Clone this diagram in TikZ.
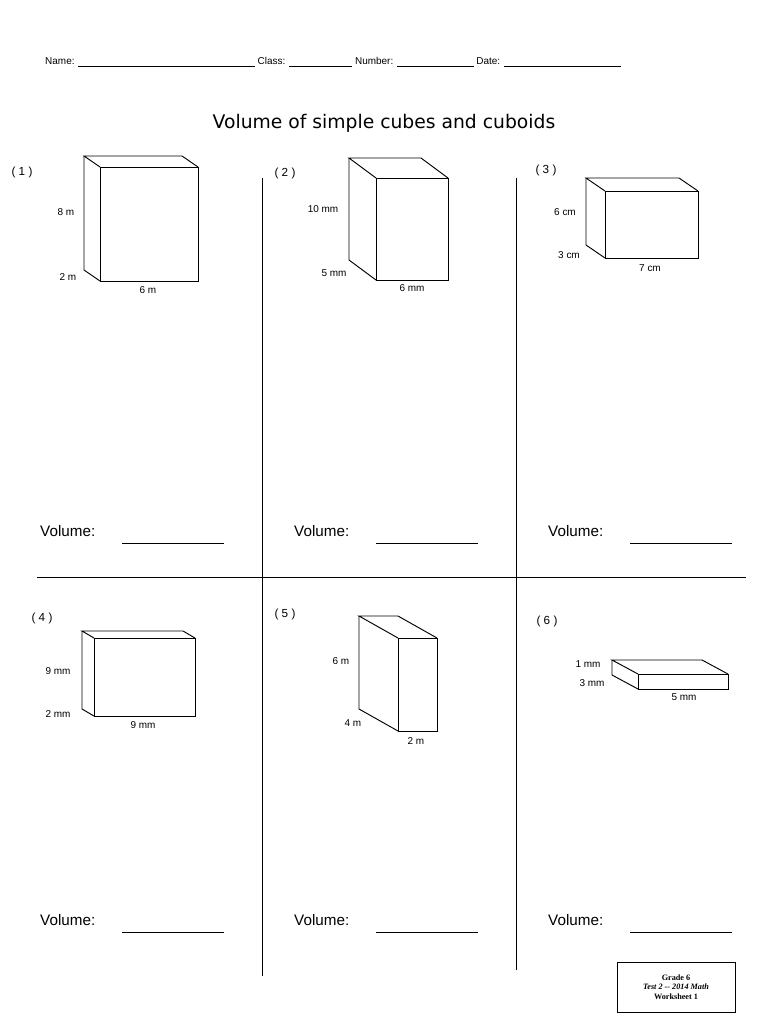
\documentclass[tikz,border=0pt]{standalone}
\usepackage{fontspec}
\setmainfont{Liberation Sans}
\newfontfamily\titlefont{DejaVu Sans}
\newfontfamily\seriffont{Liberation Serif}
\usetikzlibrary{positioning}
% front face at (#1,#2), size #3 x #4, depth offset (#5,#6)
\newcommand\cuboid[6]{%
  \draw[boxline] (#1,#2) rectangle ++(#3,#4);
  \draw[boxline] (#1,#2) -- ++(#5,#6) -- ++(#3,0) -- (#1+#3,#2);
  \draw[boxline] (#1+#5,#2+#6) -- ++(0,#4) -- (#1,#2+#4);
}
\begin{document}
\begin{tikzpicture}[x=0.03cm,y=-0.03cm,
    boxline/.style={thick, line join=miter},
    dimlabel/.style={font=\fontsize{8.5}{10}\selectfont, inner sep=0pt},
    numlabel/.style={font=\fontsize{10}{12}\selectfont, inner sep=0pt},
    vollabel/.style={font=\fontsize{13}{15}\selectfont, inner sep=0pt, anchor=west},
    sepline/.style={thin}
]
\useasboundingbox (0,0) rectangle (768,1024);
\node[font=\fontsize{8.5}{10}\selectfont, anchor=west, inner sep=0pt] (header) at (45,62)
  {Name: \underline{\hspace{5.3cm}} Class: \underline{\hspace{1.9cm}} Number: \underline{\hspace{2.3cm}} Date: \underline{\hspace{3.5cm}}};
\node[font=\titlefont\fontsize{16}{18}\selectfont] (title) at (384,123) {Volume of simple cubes and cuboids};
% separators
\draw[sepline] (262,178) -- (262,976);
\draw[sepline] (516,178) -- (516,970);
\draw[sepline] (37,577) -- (746,577);
% numbers
\node[numlabel] (n1) at (22,172) {( 1 )};
\node[numlabel] (n2) at (285,173) {( 2 )};
\node[numlabel] (n3) at (546,170) {( 3 )};
\node[numlabel] (n4) at (42,618) {( 4 )};
\node[numlabel] (n5) at (285,614) {( 5 )};
\node[numlabel] (n6) at (547,621) {( 6 )};
% cuboids
\cuboid{100}{167}{98}{114}{-16}{-11}
\cuboid{376}{178}{72}{102}{-27}{-20}
\cuboid{605}{191}{93}{67}{-19}{-13}
\cuboid{94}{638}{101}{78}{-12}{-7}
\cuboid{398}{638}{39}{93}{-39}{-22}
\cuboid{638}{674}{90}{15}{-26}{-14}
% dimensions
\node[dimlabel] (d1a) at (66,212) {8 m};
\node[dimlabel] (d1b) at (68,277) {2 m};
\node[dimlabel] (d1c) at (148,290) {6 m};
\node[dimlabel] (d2a) at (323,209) {10 mm};
\node[dimlabel] (d2b) at (334,273) {5 mm};
\node[dimlabel] (d2c) at (412,288) {6 mm};
\node[dimlabel] (d3a) at (565,212) {6 cm};
\node[dimlabel] (d3b) at (569,255) {3 cm};
\node[dimlabel] (d3c) at (650,268) {7 cm};
\node[dimlabel] (d4a) at (58,671) {9 mm};
\node[dimlabel] (d4b) at (58,714) {2 mm};
\node[dimlabel] (d4c) at (143,725) {9 mm};
\node[dimlabel] (d5a) at (341,661) {6 m};
\node[dimlabel] (d5b) at (353,723) {4 m};
\node[dimlabel] (d5c) at (416,741) {2 m};
\node[dimlabel] (d6a) at (588,664) {1 mm};
\node[dimlabel] (d6b) at (592,683) {3 mm};
\node[dimlabel] (d6c) at (684,697) {5 mm};
% volume lines
\foreach \x/\lx in {40/122, 294/376, 548/630}{
  \foreach \y in {531, 920}{
    \node[vollabel] at (\x,\y) {Volume:};
    \draw[thick] (\lx,\y+12) -- ++(102,0);
  }
}
% footer
\node[draw, thin, minimum width=118*0.03cm, minimum height=50*0.03cm, align=center,
  font=\seriffont\fontsize{7}{8}\selectfont] (footer) at (676,987)
  {\textbf{Grade 6}\\\textbf{\textit{Test 2 -- 2014 Math}}\\\textbf{Worksheet 1}};
\end{tikzpicture}
\end{document}
